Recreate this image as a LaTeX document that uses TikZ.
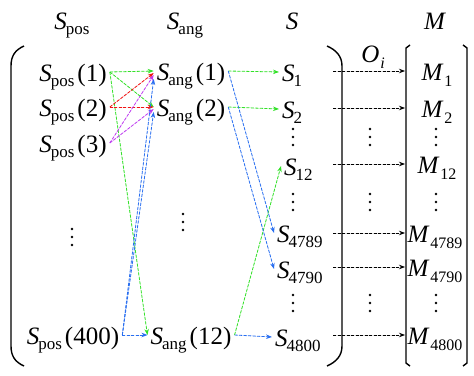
\documentclass[tikz,border=0pt]{standalone}
\usepackage{fontspec}
\setmainfont{Liberation Serif}
\usetikzlibrary{arrows.meta}
\definecolor{lgreen}{RGB}{50,225,40}
\definecolor{lblue}{RGB}{40,110,240}
\definecolor{lred}{RGB}{240,20,20}
\definecolor{lviolet}{RGB}{190,60,240}
\newcommand{\vsub}[2]{\textit{#1}\kern-1pt\raisebox{-5pt}{\fontsize{17}{17}\selectfont #2}}
\newcommand{\msub}[2]{\textit{#1}\kern1pt\raisebox{-6pt}{\fontsize{16}{16}\selectfont #2}}

\begin{document}
\begin{tikzpicture}[x=1pt,y=-1pt,
	term/.style={inner sep=3pt,text height=19pt,text depth=0pt,font=\rmfamily\fontsize{25}{30}\selectfont},
	arr/.style={line width=0.8pt,dash pattern=on 3pt off 1.5pt,-{Stealth[length=6pt,width=4.5pt]}},
	grnarr/.style={arr,draw=lgreen,fill=lgreen},
	bluarr/.style={arr,draw=lblue,fill=lblue},
	redarr/.style={arr,draw=lred,fill=lred},
	vioarr/.style={arr,draw=lviolet,fill=lviolet},
	blkarr/.style={arr,draw=black,fill=black},
	delim/.style={line width=1.4pt}]
	\useasboundingbox (0,0) rectangle (474,375);

	\node[term] (hpos) at (72,20) {\vsub{S}{pos}};
	\node[term] (hang) at (185,20) {\vsub{S}{ang}};
	\node[term] (hs) at (292,20) {\textit{S}};
	\node[term] (hm) at (435,20) {\textit{M}};

	\node[term] (spos1) at (73,72) {\vsub{S}{pos}\kern3pt(1)};
	\node[term] (spos2) at (73,107) {\vsub{S}{pos}\kern3pt(2)};
	\node[term] (spos3) at (73,143) {\vsub{S}{pos}\kern3pt(3)};
	\node[term] (spos400) at (73,335) {\vsub{S}{pos}\kern3pt(400)};

	\node[term] (sang1) at (191,71) {\vsub{S}{ang}\kern3pt(1)};
	\node[term] (sang2) at (191,107) {\vsub{S}{ang}\kern3pt(2)};
	\node[term] (sang12) at (191,335) {\vsub{S}{ang}\kern3pt(12)};

	\node[term,anchor=west] (s1) at (279,72) {\vsub{S}{1}};
	\node[term,anchor=west] (s2) at (279,109) {\vsub{S}{2}};
	\node[term,anchor=west] (s12) at (281,166) {\vsub{S}{12}};
	\node[term,anchor=west] (s4789) at (274,233) {\vsub{S}{4789}};
	\node[term,anchor=west] (s4790) at (274,269) {\vsub{S}{4790}};
	\node[term,anchor=west] (s4800) at (272,337) {\vsub{S}{4800}};

	\node[term] (oi) at (373,53) {\msub{O}{\textit{i}}};

	\node[term] (m1) at (437,71) {\msub{M}{1}};
	\node[term] (m2) at (437,108) {\msub{M}{2}};
	\node[term] (m12) at (437,164) {\msub{M}{12}};
	\node[term] (m4789) at (435,233) {\msub{M}{4789}};
	\node[term] (m4790) at (435,267) {\msub{M}{4790}};
	\node[term] (m4800) at (435,335) {\msub{M}{4800}};

	% vertical dots
	\foreach \x/\y in {72/237,183/222,293/137,293/202,293/303,370/137,370/202,370/303,436/137,436/202,436/303}
		\foreach \d in {-8,0,8}
			\fill (\x,\y+\d) circle (1.3);

	\draw[delim] (24,46) .. controls (15,50) and (11,56) .. (11,66) -- (11,346) .. controls (11,356) and (15,362) .. (24,366);
	\draw[delim] (327,46) .. controls (336,50) and (342,56) .. (342,66) -- (342,346) .. controls (342,356) and (336,362) .. (327,366);
	\draw[delim] (410,45) -- (406,48) -- (406,363) -- (410,366);
	\draw[delim] (463,45) -- (467,48) -- (467,363) -- (463,366);

	\coordinate (ostart) at (333,0);
	\coordinate (mbrk) at (405,0);
	\foreach \i in {1,2,12,4789,4790,4800}
		\draw[blkarr] (m\i -| ostart) -- (m\i -| mbrk);

	\draw[grnarr] (spos1.east) -- (sang1.west);
	\draw[grnarr] (spos1.east) -- (sang2.west);
	\draw[grnarr] (spos1.east) -- (sang12.west);
	\draw[redarr] (spos2.east) -- ([yshift=-2pt]sang1.west);
	\draw[redarr] (spos2.east) -- (sang2.west);
	\draw[vioarr] (spos3.east) -- ([yshift=-4pt]sang1.west);
	\draw[vioarr] (spos3.east) -- ([yshift=-2pt]sang2.west);
	\draw[bluarr] (spos400.east) -- ([yshift=-8pt]sang1.west);
	\draw[bluarr] (spos400.east) -- ([yshift=-5pt]sang2.west);
	\draw[bluarr] (spos400.east) -- (sang12.west);

	\draw[grnarr] (sang1.east) -- (s1.west);
	\draw[grnarr] (sang2.east) -- (s2.west);
	\draw[grnarr] (sang12.east) -- (s12.west);
	\draw[bluarr] (sang1.east) -- (s4789.west);
	\draw[bluarr] (sang2.east) -- (s4790.west);
	\draw[bluarr] (sang12.east) -- (s4800.west);
\end{tikzpicture}
\end{document}
